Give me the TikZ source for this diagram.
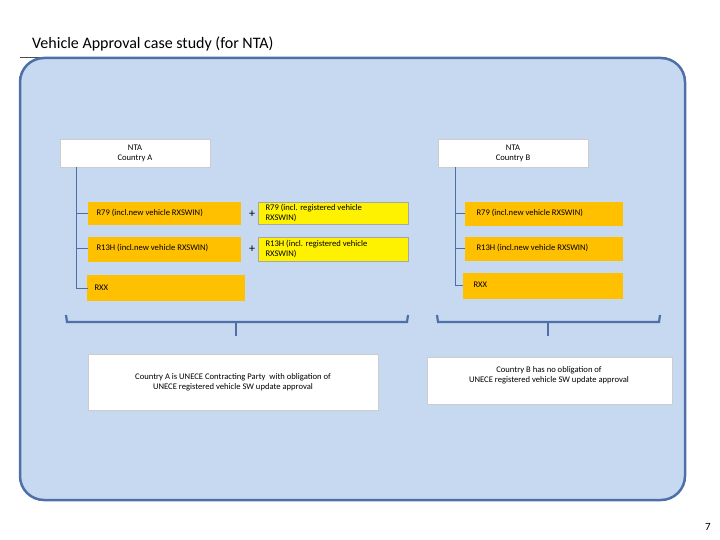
\documentclass[tikz,border=0pt]{standalone}
\usepackage{fontspec}
\setmainfont{Carlito}
\begin{document}
\begin{tikzpicture}[x=1pt,y=-1pt,
  sm/.style={font=\fontsize{8.6}{10}\selectfont},
  box/.style={draw=black!25,line width=0.4pt,inner sep=2pt,sm},
  org/.style={box,fill={rgb,255:red,255;green,192;blue,0},draw={rgb,255:red,255;green,192;blue,0}},
  yel/.style={box,fill=yellow,draw=black!35},
  wht/.style={box,fill=white,draw=black!20,align=center},
  tree/.style={draw={rgb,255:red,79;green,111;blue,168},line width=0.6pt},
  brace/.style={draw={rgb,255:red,79;green,111;blue,168},line width=2.2pt}]
\useasboundingbox (0,0) rectangle (720,540);
\node[anchor=base west,font=\fontsize{16}{19}\selectfont,inner sep=0pt] (title) at (32,49) {Vehicle Approval case study (for NTA)};
\draw[black!70,line width=0.5pt] (20,57) -- (410,57);
\draw[draw={rgb,255:red,79;green,111;blue,168},line width=2.5pt,fill={rgb,255:red,198;green,217;blue,240},rounded corners=24pt] (20,58) rectangle (685,500);
\path[wht] (60,139) rectangle (210,167);
\node[sm,align=center] (ntaA) at (135,153) {NTA\\Country A};
\path[wht] (438,139) rectangle (588,167);
\node[sm,align=center] (ntaB) at (513,153) {NTA\\Country B};
\path[org] (88,202) rectangle (240,224); \node[sm,anchor=west] (a1) at (93,213) {R79 (incl.new vehicle RXSWIN)};
\path[org] (88,237) rectangle (240,261); \node[sm,anchor=west] (a2) at (93,248) {R13H (incl.new vehicle RXSWIN)};
\path[org] (87,275) rectangle (244,300); \node[sm,anchor=west] (a3) at (91,288) {RXX};
\path[yel] (258,202) rectangle (408,224); \node[sm,anchor=west,align=left] (y1) at (262,213) {R79 (incl. registered vehicle\\RXSWIN)};
\path[yel] (258,237) rectangle (408,261); \node[sm,anchor=west,align=left] (y2) at (262,249) {R13H (incl. registered vehicle\\RXSWIN)};
\node[font=\fontsize{12}{12}\selectfont] (p1) at (252,214) {+};
\node[font=\fontsize{12}{12}\selectfont] (p2) at (252,249) {+};
\path[org] (465,202) rectangle (622,225); \node[sm,anchor=west] (b1) at (473,213) {R79 (incl.new vehicle RXSWIN)};
\path[org] (465,237) rectangle (622,260); \node[sm,anchor=west] (b2) at (473,248) {R13H (incl.new vehicle RXSWIN)};
\path[org] (463,273) rectangle (622,298); \node[sm,anchor=west] (b3) at (470,285) {RXX};
\coordinate (ta) at (76,167);
\draw[tree] (ta) -- (76,288) -- (88,288);
\draw[tree] (76,213) -- (88,213); \draw[tree] (76,248) -- (88,248);
\coordinate (tb) at (455,167);
\draw[tree] (tb) -- (455,285) -- (463,285);
\draw[tree] (455,213) -- (465,213); \draw[tree] (455,248) -- (465,248);
\draw[brace] (66,315) -- (67,322) -- (407,322) -- (408,315);
\draw[brace] (236,322) -- (236,336);
\draw[brace] (437,315) -- (438,322) -- (659,322) -- (660,315);
\draw[brace] (548,322) -- (548,336);
\path[wht] (88,354) rectangle (378,410);
\node[sm,align=center] (ta2) at (233,382) {Country A is UNECE Contracting Party~ with obligation of\\UNECE registered vehicle SW update approval};
\path[wht] (427,357) rectangle (672,404);
\node[sm,align=center] (tb2) at (549,375) {Country B has no obligation of\\UNECE registered vehicle SW update approval};
\node[font=\fontsize{11}{12}\selectfont] (pg) at (708,527) {7};
\end{tikzpicture}
\end{document}
